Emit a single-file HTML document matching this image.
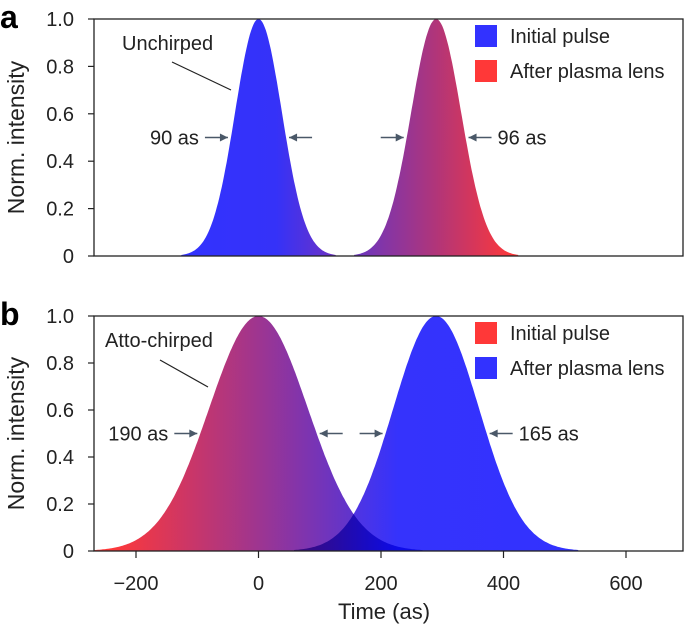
<!DOCTYPE html>
<html><head><meta charset="utf-8"><style>
body{margin:0;background:#fff}
svg{display:block;font-family:"Liberation Sans",sans-serif}
</style></head><body>
<svg id="chart" width="685" height="629" viewBox="0 0 685 629">
<defs>
<linearGradient id="gA1" gradientUnits="userSpaceOnUse" x1="180" x2="340" y1="0" y2="0"><stop offset="0" stop-color="#3232ff"/><stop offset="0.6" stop-color="#3532f8"/><stop offset="1" stop-color="#7232c0"/></linearGradient>
<linearGradient id="gA2" gradientUnits="userSpaceOnUse" x1="355" x2="515" y1="0" y2="0"><stop offset="0" stop-color="#6a35c0"/><stop offset="0.5" stop-color="#b0357a"/><stop offset="1" stop-color="#ff3838"/></linearGradient>
<linearGradient id="gB1" gradientUnits="userSpaceOnUse" x1="110" x2="400" y1="0" y2="0"><stop offset="0" stop-color="#ff3838"/><stop offset="0.5" stop-color="#a0358e"/><stop offset="1" stop-color="#3f33ec"/></linearGradient>
<linearGradient id="gB2" gradientUnits="userSpaceOnUse" x1="300" x2="580" y1="0" y2="0"><stop offset="0" stop-color="#7235c0"/><stop offset="0.35" stop-color="#3533fc"/><stop offset="1" stop-color="#3232ff"/></linearGradient>
</defs>
<g id="plot"></g>
</svg>
<script>
const centersA=[0,290];
const fwhmA=[90,96];
const centersB=[0,290];
const fwhmB=[190,165];
const yTicks=[0,0.2,0.4,0.6,0.8,1.0];
const yTickLabels=["0","0.2","0.4","0.6","0.8","1.0"];
const xTicks=[-200,0,200,400,600];
const xTickLabels=["−200","0","200","400","600"];
const NS="http://www.w3.org/2000/svg";
const g=document.getElementById('plot');
const X0=94,X1=683;
const sx=t=>258.5+t*0.6125;
function mk(tag,attrs,parent){const e=document.createElementNS(NS,tag);for(const k in attrs)e.setAttribute(k,attrs[k]);(parent||g).appendChild(e);return e;}
function txt(s,x,y,size,anchor,extra){const e=mk('text',Object.assign({x:x,y:y,'font-size':size,'text-anchor':anchor||'start',fill:'#222'},extra||{}));e.textContent=s;return e;}
function pulse(c,f,top,bot,fill,blend){
  const sig=f/2.3548;const h=bot-top;let pts=[];
  for(let t=-270;t<=700;t+=2){const v=Math.exp(-((t-c)**2)/(2*sig*sig));if(v<0.004)continue;pts.push(sx(t).toFixed(1)+','+(bot-v*h).toFixed(1));}
  const first=pts[0].split(',')[0],last=pts[pts.length-1].split(',')[0];
  const p=mk('polygon',{points:first+','+bot+' '+pts.join(' ')+' '+last+','+bot,fill:fill});
  if(blend)p.style.mixBlendMode='multiply';
  return p;
}
function arrow(x1,x2,y){
  const e=mk('line',{x1:x1,y1:y,x2:x2,y2:y,stroke:'#4a5868','stroke-width':1.6});
  
  
  const d=x2>x1?-1:1;
  const hd=mk('polygon',{points:`${x2},${y} ${x2+d*8},${y-4} ${x2+d*8},${y+4}`,fill:'#4a5868'});
  
  
}
function panel(top,bot,centers,fwhms,fills,letter,showX,legendCols,legendLabels){
  const h=bot-top;const sy=v=>bot-v*h;
  centers.forEach((c,i)=>{const p=pulse(c,fwhms[i],top,bot,fills[i],i===1&&showX);
    
    });
  const fr=mk('rect',{x:X0,y:top,width:X1-X0,height:h,fill:'none',stroke:'#222','stroke-width':1.3});
  
  
  yTicks.forEach((v,i)=>{mk('line',{x1:X0-6,x2:X0,y1:sy(v),y2:sy(v),stroke:'#222','stroke-width':1.2});
    const t=txt(yTickLabels[i],X0-20,sy(v)+7,20,'end');
    
    });
  const yt=txt('Norm. intensity',0,0,23,'middle',{transform:`translate(24,${(top+bot)/2}) rotate(-90)`});
  
  
  const L=txt(letter,0,top+9,32,'start',{'font-weight':'bold',fill:'#000'});
  
  
  legendCols.forEach((col,i)=>{const y=top+17+i*35;
    const r=mk('rect',{x:475,y:y-11,width:22,height:22,fill:col});
    
    
    const t=txt(legendLabels[i],510,y+7,20);
    
    });
  if(showX){xTicks.forEach((v,i)=>{mk('line',{x1:sx(v),x2:sx(v),y1:bot,y2:bot+7,stroke:'#222','stroke-width':1.2});
    const t=txt(xTickLabels[i],sx(v),bot+39,20,'middle');
    
    });
    const xt=txt('Time (as)',384,bot+68,22,'middle');
    
    }
  return sy;
}
const syA=panel(19,256,centersA,fwhmA,['url(#gA1)','url(#gA2)'],'a',false,['#3232ff','#ff3838'],['Initial pulse','After plasma lens']);
const syB=panel(316,551,centersB,fwhmB,['url(#gB1)','url(#gB2)'],'b',true,['#ff3838','#3232ff'],['Initial pulse','After plasma lens']);
let t=txt('Unchirped',122,50,20);
let l=mk('line',{x1:172,y1:62,x2:231,y2:90,stroke:'#222','stroke-width':1.2});
t=txt('Atto-chirped',105,347,20);
l=mk('line',{x1:160,y1:360,x2:208,y2:387,stroke:'#222','stroke-width':1.2});
const hyA=syA(0.5),hyB=syB(0.5);
function fw(c,f,y,label,lx,anchor){const a=sx(c-f/2),b=sx(c+f/2);arrow(a-26,a-3,y);arrow(b+26,b+3,y);
  const tt=txt(label,lx,y+7,20,anchor);}
fw(centersA[0],fwhmA[0],hyA,'90 as',sx(centersA[0]-fwhmA[0]/2)-32,'end');
fw(centersA[1],fwhmA[1],hyA,'96 as',sx(centersA[1]+fwhmA[1]/2)+32,'start');
fw(centersB[0],fwhmB[0],hyB,'190 as',sx(centersB[0]-fwhmB[0]/2)-32,'end');
fw(centersB[1],fwhmB[1],hyB,'165 as',sx(centersB[1]+fwhmB[1]/2)+32,'start');
</script>
</body></html>
